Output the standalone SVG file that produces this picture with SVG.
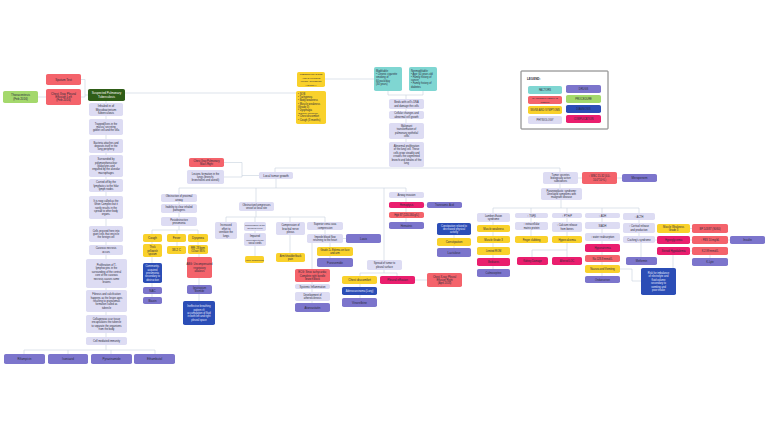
<svg xmlns="http://www.w3.org/2000/svg" width="768" height="433" viewBox="0 0 768 433">
<style>
text{font-family:"Liberation Sans",Arial,sans-serif;font-size:3px;fill:#2b2b3a;text-anchor:middle}
.s text,text.s{font-size:2.6px}
.l{text-anchor:start}
rect{rx:1.8px}
.f{fill:#7fd6d2}.d{fill:#7c75cc}.r{fill:#f4636b}.g{fill:#a4d86c}.y{fill:#f9d12b}.b{fill:#2b4db6}.p{fill:#dddcf3}.c{fill:#ea1e6e}.k{fill:#2f5d17}
.w{fill:#ffffff}
#conn path{fill:none;stroke:#c6d1de;stroke-width:0.6}
</style>
<rect width="768" height="433" fill="#ffffff" style="rx:0"/>
<g id="conn">
<path d="M38,97H46M81,79.5H85V97H81M85,95H88M125,93H296M106,101V337M106,345V350M24,350H155M24,350V354M68,350V354M111,350V354M155,350V354"/>
<path d="M325,79H374M388,91V95H423V91M406,95V167M275,168H560M275,168V172M560,168V172"/>
<path d="M224,162.5H242V177H224M242,175.5H259M276,179V188M179,188H406M179,188V194M256,188V202M384,188V260M406,188V229M424,205H427"/>
<path d="M179,194V230M152,230H198M152,230V304M177,230V254M198,230V245M199,245V301"/>
<path d="M256,211V217M226,217H325M226,217V222M255,217V256M290,217V253M325,217V234M330,243V258M343,238.5H346M312,243V303"/>
<path d="M384,270V273M360,273H397M360,273V298M397,273V276M415,280H427M454,235V248"/>
<path d="M578,178H582M617,178H622M560,184V188M561,200V208M493,208H639M493,208V277M531,208V243M567,208V257M567,250H532V257M602,208V283M639,208V243M641,243V257M655,240H657M690,228.5H692M690,240H692M728,240H730M690,251H692M710,255V258M673,255V268M620,269H632V281H641"/>
</g>
<g id="legend">
<rect x="521" y="71" width="87" height="58" fill="#ffffff" stroke="#555" stroke-width="0.8" style="rx:0.5px"/>
<text x="527" y="79.5" class="l" font-weight="bold">LEGEND:</text>
<g class="s">
<rect class="f" x="528" y="86" width="34" height="8"/><text x="545" y="91">FACTORS</text>
<rect class="d" x="566" y="85" width="35" height="8"/><text x="583.5" y="90">DRUGS</text>
<rect class="r" x="528" y="96" width="34" height="8"/><text x="545" y="99.4" style="font-size:2.3px">DIAGNOSTIC TEST/LAB</text><text x="545" y="102.6" style="font-size:2.3px">RESULT</text>
<rect class="g" x="566" y="95" width="35" height="8"/><text x="583.5" y="100">PROCEDURE</text>
<rect class="y" x="528" y="106" width="34" height="8"/><text x="545" y="111">SIGNS AND SYMPTOMS</text>
<rect class="b" x="566" y="105" width="35" height="8"/><text x="583.5" y="110">DIAGNOSIS</text>
<rect class="p" x="528" y="116" width="34" height="8"/><text x="545" y="121">PHYSIOLOGY</text>
<rect class="c" x="566" y="115" width="35" height="8"/><text x="583.5" y="120">COMPLICATION</text>
</g>
</g>
<g id="sputum"><rect class="r" x="46" y="74" width="35" height="11"/><text x="63.5" y="80.5">Sputum Test</text></g>
<g id="cxr_left"><rect class="r" x="46" y="89" width="35" height="16"/><text x="63.5" y="94.6">Chest Xray Pleural</text><text x="63.5" y="98">Effusion Left</text><text x="63.5" y="101.4">(Feb 2016)</text></g>
<g id="thora"><rect class="g" x="3" y="91" width="35" height="12"/><text x="20.5" y="96.3">Thoracentesis</text><text x="20.5" y="99.7">(Feb 2016)</text></g>
<g id="ptb"><rect class="k" x="88" y="89" width="37" height="12"/><text x="106.5" y="94.3" fill="#fff" style="fill:#fff">Suspected Pulmonary</text><text x="106.5" y="97.7" style="fill:#fff">Tuberculosis</text></g>
<g id="t1"><rect class="p" x="89" y="103" width="34" height="13"/><text x="106" y="107.1">Inhaled in of</text><text x="106" y="110.5">Mycobacterium</text><text x="106" y="113.9">tuberculosis</text></g>
<g id="t2" class="s"><rect class="p" x="89" y="119" width="34" height="16"/><text x="106" y="124.6">Trapped/lives in the</text><text x="106" y="128">mucus/ secreting</text><text x="106" y="131.4">goblet cell and the villa</text></g>
<g id="t3" class="s"><rect class="p" x="89" y="139" width="34" height="14"/><text x="106" y="143.6">Bacteria attaches and</text><text x="106" y="147">deposits itself in the</text><text x="106" y="150.4">lung periphery</text></g>
<g id="t4" class="s"><rect class="p" x="89" y="155" width="34" height="22"/><text x="106" y="160.2">Surrounded by</text><text x="106" y="163.6">polymorphonuclear</text><text x="106" y="167">leukocytes and</text><text x="106" y="170.4">engulfed by the alveolar</text><text x="106" y="173.8">macrophages</text></g>
<g id="t5" class="s"><rect class="p" x="89" y="179" width="34" height="13"/><text x="106" y="183.1">Carried off by the</text><text x="106" y="186.5">lymphatics to the hilar</text><text x="106" y="189.9">lymph nodes</text></g>
<g id="t6" class="s"><rect class="p" x="89" y="196" width="34" height="23"/><text x="106" y="201.7">It is now called as the</text><text x="106" y="205.1">Ghon Complex but it</text><text x="106" y="208.5">rarely results in the</text><text x="106" y="211.9">spread to other body</text><text x="106" y="215.3">organs.</text></g>
<g id="t7" class="s"><rect class="p" x="89" y="226" width="34" height="16"/><text x="106" y="231.6">Cells proceed here into</text><text x="106" y="235">giant cells that encircle</text><text x="106" y="238.4">the foreign cell</text></g>
<g id="t8" class="s"><rect class="p" x="89" y="245" width="34" height="10"/><text x="106" y="249.3">Caseous necrosis</text><text x="106" y="252.7">occurs</text></g>
<g id="t9" class="s"><rect class="p" x="86" y="259" width="41" height="29"/><text x="106.5" y="266">Proliferation of T-</text><text x="106.5" y="269.4">lymphocytes in the</text><text x="106.5" y="272.8">surrounding of the central</text><text x="106.5" y="276.2">core of the caseous</text><text x="106.5" y="279.6">necrosis causes some</text><text x="106.5" y="283">lesions</text></g>
<g id="t10" class="s"><rect class="p" x="86" y="290" width="41" height="22"/><text x="106.5" y="295.2">Fibrosis and calcification</text><text x="106.5" y="298.6">happens as the lesion ages</text><text x="106.5" y="302">resulting to granulomas</text><text x="106.5" y="305.4">formation called as</text><text x="106.5" y="308.8">tubercle</text></g>
<g id="t11" class="s"><rect class="p" x="86" y="315" width="41" height="18"/><text x="106.5" y="319.9">Collagenous scar tissue</text><text x="106.5" y="323.3">encapsulates the tubercle</text><text x="106.5" y="326.7">to separate the organisms</text><text x="106.5" y="330.1">from the body</text></g>
<g id="t12" class="s"><rect class="p" x="86" y="337" width="41" height="8"/><text x="106.5" y="341.9">Cell mediated immunity</text></g>
<g id="rifampicin"><rect class="d" x="4" y="354" width="41" height="10"/><text x="24.5" y="360">Rifampicin</text></g>
<g id="isoniazid"><rect class="d" x="48" y="354" width="40" height="10"/><text x="68" y="360">Isoniazid</text></g>
<g id="pyrazinamide"><rect class="d" x="91" y="354" width="41" height="10"/><text x="111.5" y="360">Pyrazinamide</text></g>
<g id="ethambutol"><rect class="d" x="134" y="354" width="41" height="10"/><text x="154.5" y="360">Ethambutol</text></g>
<g id="cxr_mass"><rect class="r" x="189" y="158" width="35" height="9"/><text x="206.5" y="161.8" class="s">Chest Xray Pulmonary</text><text x="206.5" y="165.2" class="s">Mass Right</text></g>
<g id="lesions" class="s"><rect class="p" x="187" y="170" width="37" height="14"/><text x="205.5" y="174.6">Lesions formation in the</text><text x="205.5" y="178">lungs (bronchi,</text><text x="205.5" y="181.4">bronchioles and alveoli)</text></g>
<g id="local"><rect class="p" x="259" y="172" width="34" height="7"/><text x="276" y="176.5">Local tumor growth</text></g>
<g id="obs" class="s"><rect class="p" x="161" y="194" width="36" height="8"/><text x="179" y="197.4">Obstruction of proximal</text><text x="179" y="200.7">airway</text></g>
<g id="inab" class="s"><rect class="p" x="161" y="204" width="36" height="9"/><text x="179" y="207.8">Inability to clear inhaled</text><text x="179" y="211.2">pathogens</text></g>
<g id="postob" class="s"><rect class="p" x="161" y="217" width="36" height="9"/><text x="179" y="220.8">Postobstructive</text><text x="179" y="224.2">pneumonia</text></g>
<g id="cough"><rect class="y" x="143" y="234" width="19" height="8"/><text x="152.5" y="239">Cough</text></g>
<g id="sputum2" class="s"><rect class="y" x="143" y="244" width="19" height="13"/><text x="152.5" y="248.1">Thick</text><text x="152.5" y="251.5">yellowish</text><text x="152.5" y="254.9">sputum</text></g>
<g id="cap" class="s"><rect class="b" x="143" y="263" width="19" height="20"/><text x="152.5" y="267.2" style="fill:#e8ecff">Community-</text><text x="152.5" y="270.6" style="fill:#e8ecff">acquired</text><text x="152.5" y="274" style="fill:#e8ecff">pneumonia</text><text x="152.5" y="277.4" style="fill:#e8ecff">secondary to</text><text x="152.5" y="280.8" style="fill:#e8ecff">obstruction</text></g>
<g id="nac"><rect class="d" x="143" y="287" width="19" height="7"/><text x="152.5" y="291.5">NAC</text></g>
<g id="biaxin"><rect class="d" x="143" y="297" width="19" height="7"/><text x="152.5" y="301.5">Biaxin</text></g>
<g id="fever"><rect class="y" x="167" y="234" width="19" height="8"/><text x="176.5" y="239">Fever</text></g>
<g id="temp"><rect class="y" x="167" y="246" width="19" height="8"/><text x="176.5" y="251">38.2 C</text></g>
<g id="dysp"><rect class="y" x="188" y="234" width="20" height="8"/><text x="198" y="239">Dyspnea</text></g>
<g id="rr" class="s"><rect class="y" x="188" y="245" width="20" height="9"/><text x="198" y="248.8">RR: 28 bpm</text><text x="198" y="252.2">O2sat: 86%</text></g>
<g id="abg" class="s"><rect class="r" x="187" y="257" width="25" height="21"/><text x="199.5" y="265.1">ABG: Uncompensated</text><text x="199.5" y="268.5">respiratory</text><text x="199.5" y="271.9">alkalosis</text></g>
<g id="iprat" class="s"><rect class="d" x="187" y="285" width="25" height="9"/><text x="199.5" y="288.8">Ipratropium</text><text x="199.5" y="292.2">Bromide</text></g>
<g id="peff_dx" class="s"><rect class="b" x="183" y="301" width="32" height="24"/><text x="199" y="307.2" style="fill:#e8ecff">Ineffective breathing</text><text x="199" y="310.6" style="fill:#e8ecff">pattern r/t</text><text x="199" y="314" style="fill:#e8ecff">accumulation of fluid</text><text x="199" y="317.4" style="fill:#e8ecff">in both left and right</text><text x="199" y="320.8" style="fill:#e8ecff">pleural space</text></g>
<g id="vessel" class="s"><rect class="p" x="239" y="202" width="35" height="9"/><text x="256.5" y="205.8">Obstruction/compresses</text><text x="256.5" y="209.2">vessel at local site</text></g>
<g id="effort" class="s"><rect class="p" x="215" y="222" width="22" height="17"/><text x="226" y="226.4">Increased</text><text x="226" y="229.8">effort to</text><text x="226" y="233.2">ventilate the</text><text x="226" y="236.6">lungs</text></g>
<g id="laryn" class="s"><rect class="p" x="244" y="222" width="22" height="9"/><text x="255" y="225.8" style="font-size:2.3px">Compression at the</text><text x="255" y="229.2" style="font-size:2.3px">laryngeal nerve</text></g>
<g id="impair" class="s"><rect class="p" x="244" y="233" width="22" height="13"/><text x="255" y="237.1">Impaired</text><text x="255" y="240.5" style="font-size:2.3px">innervation to the</text><text x="255" y="243.9">vocal cords</text></g>
<g id="voice" class="s"><rect class="y" x="245" y="256" width="19" height="7"/><text x="254.5" y="260.5" style="font-size:2.3px">Voice hoarseness</text></g>
<g id="brach" class="s"><rect class="p" x="276" y="222" width="29" height="13"/><text x="290.5" y="226.1">Compression of</text><text x="290.5" y="229.5">brachial nerve</text><text x="290.5" y="232.9">plexus</text></g>
<g id="arm" class="s"><rect class="y" x="276" y="253" width="29" height="9"/><text x="290.5" y="256.8">Arm/shoulder/back</text><text x="290.5" y="260.2">pain</text></g>
<g id="svc" class="s"><rect class="p" x="307" y="222" width="36" height="8"/><text x="325" y="225.3">Superior vena cava</text><text x="325" y="228.7">compression</text></g>
<g id="impede" class="s"><rect class="p" x="307" y="234" width="36" height="9"/><text x="325" y="237.8">Impede blood flow</text><text x="325" y="241.2">returning to the heart</text></g>
<g id="lasix"><rect class="d" x="346" y="234" width="35" height="9"/><text x="363.5" y="239.5">Lasix</text></g>
<g id="edema" class="s"><rect class="y" x="317" y="247" width="36" height="9"/><text x="335" y="250.8">Grade 2+ Edema on face</text><text x="335" y="254.2">and arm</text></g>
<g id="furo"><rect class="d" x="317" y="258" width="36" height="9"/><text x="335" y="263.5">Furosemide</text></g>
<g id="ecg" class="s"><rect class="r" x="295" y="269" width="35" height="13"/><text x="312.5" y="273.1">ECG: Sinus tachycardia;</text><text x="312.5" y="276.5">Complete right bundle</text><text x="312.5" y="279.9">branch block</text></g>
<g id="sysinf" class="s"><rect class="p" x="295" y="284" width="35" height="5"/><text x="312.5" y="287.5">Systemic Inflammation</text></g>
<g id="athero" class="s"><rect class="p" x="295" y="292" width="35" height="9"/><text x="312.5" y="295.8">Development of</text><text x="312.5" y="299.2">atherosclerosis</text></g>
<g id="atorva"><rect class="d" x="295" y="303" width="35" height="9"/><text x="312.5" y="308.5">Atorvastatin</text></g>
<g id="spread" class="s"><rect class="p" x="367" y="260" width="35" height="10"/><text x="384.5" y="264.3">Spread of tumor to</text><text x="384.5" y="267.7">pleural surface</text></g>
<g id="chestd"><rect class="y" x="342" y="276" width="35" height="8"/><text x="359.5" y="281">Chest discomfort</text></g>
<g id="adeno" class="s"><rect class="b" x="342" y="287" width="35" height="8"/><text x="359.5" y="292" style="fill:#e8ecff">Adenocarcinoma (Lung)</text></g>
<g id="vino"><rect class="d" x="342" y="298" width="35" height="9"/><text x="359.5" y="303.5">Vinorelbine</text></g>
<g id="peff"><rect class="c" x="380" y="276" width="35" height="8"/><text x="397.5" y="281">Pleural effusion</text></g>
<g id="cxr_r" class="s"><rect class="r" x="427" y="273" width="35" height="14"/><text x="444.5" y="277.6">Chest X-ray: Pleural</text><text x="444.5" y="281">Effusion Right</text><text x="444.5" y="284.4">(April 2016)</text></g>
<g id="pss" class="s"><rect class="y" x="297" y="72" width="28" height="15"/><text x="311" y="75.4" style="font-size:2.3px">PRESENTING SIGNS</text><text x="311" y="78.8" style="font-size:2.3px">AND SYMPTOMS</text><text x="311" y="82.2" style="font-size:2.3px">(UPON ADMISSION</text><text x="311" y="85.6" style="font-size:2.3px">HISTORY)</text></g>
<g id="list" class="s"><rect class="y" x="296" y="91" width="30" height="33"/><text x="298" y="95" class="l">• SOB</text><text x="298" y="98.2" class="l">• Tachypnea</text><text x="298" y="101.4" class="l">• Body weakness</text><text x="298" y="104.6" class="l">• Muscle weakness</text><text x="298" y="107.8" class="l">  (Grade 3)</text><text x="298" y="111" class="l">• Dysphagia</text><text x="298" y="114.2" class="l" style="font-size:2.3px">(Difficulty speaking)</text><text x="298" y="117.4" class="l">• Chest discomfort</text><text x="298" y="120.6" class="l">• Cough (3 months)</text></g>
<g id="mod" class="s"><rect class="f" x="374" y="67" width="28" height="24"/><text x="376" y="72" class="l">Modifiable:</text><text x="376" y="75.2" class="l">• Chronic cigarette</text><text x="376" y="78.4" class="l">smoking of</text><text x="376" y="81.6" class="l">60 pack/day</text><text x="376" y="84.8" class="l">(30 years)</text></g>
<g id="nonmod" class="s"><rect class="f" x="409" y="67" width="28" height="24"/><text x="411" y="71.5" class="l">Nonmodifiable:</text><text x="411" y="74.7" class="l">• Age: 60 years old</text><text x="411" y="77.9" class="l">• Family history of</text><text x="411" y="81.1" class="l">cancer</text><text x="411" y="84.3" class="l">• Family history of</text><text x="411" y="87.5" class="l">diabetes</text></g>
<g id="binds" class="s"><rect class="p" x="389" y="99" width="35" height="10"/><text x="406.5" y="103.3">Binds with cell's DNA</text><text x="406.5" y="106.7">and damage the cells</text></g>
<g id="cellch" class="s"><rect class="p" x="389" y="111" width="35" height="8"/><text x="406.5" y="114.3">Cellular changes and</text><text x="406.5" y="117.7">abnormal cell growth</text></g>
<g id="malig" class="s"><rect class="p" x="389" y="123" width="35" height="16"/><text x="406.5" y="126.9">Malignant</text><text x="406.5" y="130.3">transformation of</text><text x="406.5" y="133.7">pulmonary epithelial</text><text x="406.5" y="137.1">cells</text></g>
<g id="abn" class="s"><rect class="p" x="389" y="142" width="35" height="25"/><text x="406.5" y="147">Abnormal proliferation</text><text x="406.5" y="150.4">of the lung cell. These</text><text x="406.5" y="153.8">cells grow steadily and</text><text x="406.5" y="157.2">creates the segmented</text><text x="406.5" y="160.6">bronchi and lobules of the</text><text x="406.5" y="164">lung</text></g>
<g id="airway" class="s"><rect class="p" x="389" y="192" width="35" height="6"/><text x="406.5" y="196">Airway invasion</text></g>
<g id="hemop" class="s"><rect class="c" x="389" y="202" width="35" height="6"/><text x="406.5" y="206">Hemoptysis</text></g>
<g id="txa" class="s"><rect class="d" x="427" y="202" width="35" height="6"/><text x="444.5" y="206">Tranexamic Acid</text></g>
<g id="hgb" class="s"><rect class="r" x="389" y="212" width="35" height="6"/><text x="406.5" y="216">Hgb 87 (120-160 g/L)</text></g>
<g id="iron" class="s"><rect class="d" x="389" y="222" width="35" height="7"/><text x="406.5" y="226.5">Hematinic</text></g>
<g id="constdx" class="s"><rect class="b" x="437" y="223" width="34" height="12"/><text x="454" y="226.6" style="fill:#e8ecff">Constipation related to</text><text x="454" y="230" style="fill:#e8ecff">decreased physical</text><text x="454" y="233.4" style="fill:#e8ecff">activity</text></g>
<g id="const"><rect class="y" x="437" y="238" width="34" height="8"/><text x="454" y="243">Constipation</text></g>
<g id="lactu"><rect class="d" x="437" y="248" width="34" height="9"/><text x="454" y="253.5">Lactulose</text></g>
<g id="tumsec" class="s"><rect class="p" x="543" y="172" width="35" height="12"/><text x="560.5" y="175.6">Tumor secretes</text><text x="560.5" y="179">biologically active</text><text x="560.5" y="182.4">substances</text></g>
<g id="wbc" class="s"><rect class="r" x="582" y="172" width="35" height="12"/><text x="599.5" y="177.3">↑ WBC 15.32 (4.0-</text><text x="599.5" y="180.7">10.0*10⁹/L)</text></g>
<g id="mero"><rect class="d" x="622" y="174" width="35" height="8"/><text x="639.5" y="179">Meropenem</text></g>
<g id="parane" class="s"><rect class="p" x="541" y="188" width="41" height="12"/><text x="561.5" y="191.6">Paraneoplastic syndrome:</text><text x="561.5" y="195">Unrelated symptoms with</text><text x="561.5" y="198.4">malignant disease</text></g>
<g id="lambert" class="s"><rect class="p" x="477" y="213" width="33" height="9"/><text x="493.5" y="216.8">Lambert-Eaton</text><text x="493.5" y="220.2">syndrome</text></g>
<g id="mw" class="s"><rect class="y" x="477" y="225" width="33" height="7"/><text x="493.5" y="229.5">Muscle weakness</text></g>
<g id="mg" class="s"><rect class="y" x="477" y="236" width="33" height="7"/><text x="493.5" y="240.5">Muscle Grade 3</text></g>
<g id="rom" class="s"><rect class="y" x="477" y="247" width="33" height="8"/><text x="493.5" y="252">Limited ROM</text></g>
<g id="bed" class="s"><rect class="c" x="477" y="258" width="33" height="8"/><text x="493.5" y="263">Bedsores</text></g>
<g id="calmo" class="s"><rect class="d" x="477" y="269" width="33" height="8"/><text x="493.5" y="274">Calmoseptine</text></g>
<g id="tgf" class="s"><rect class="p" x="515" y="213" width="33" height="5"/><text x="531.5" y="216.5">↑ TGFβ</text></g>
<g id="ecm" class="s"><rect class="p" x="515" y="222" width="33" height="8"/><text x="531.5" y="225.3">↑ extracellular</text><text x="531.5" y="228.7">matrix protein</text></g>
<g id="club" class="s"><rect class="y" x="515" y="236" width="33" height="7"/><text x="531.5" y="240.5">Finger clubbing</text></g>
<g id="kidney" class="s"><rect class="c" x="517" y="257" width="31" height="8"/><text x="532.5" y="262">Kidney Damage</text></g>
<g id="pthrp" class="s"><rect class="p" x="552" y="213" width="30" height="5"/><text x="567" y="216.5">↑ PTHrP</text></g>
<g id="ca" class="s"><rect class="p" x="552" y="222" width="30" height="10"/><text x="567" y="226.3">↑ Calcium release</text><text x="567" y="229.7">from bones</text></g>
<g id="hyperca" class="s"><rect class="y" x="552" y="236" width="30" height="7"/><text x="567" y="240.5">Hypercalcemia</text></g>
<g id="loc" class="s"><rect class="c" x="552" y="257" width="30" height="8"/><text x="567" y="262">Altered LOC</text></g>
<g id="adh" class="s"><rect class="p" x="585" y="213" width="35" height="5"/><text x="602.5" y="216.5">↑ ADH</text></g>
<g id="siadh" class="s"><rect class="p" x="585" y="222" width="35" height="7"/><text x="602.5" y="226.5">SIADH</text></g>
<g id="water" class="s"><rect class="p" x="585" y="233" width="35" height="8"/><text x="602.5" y="238">↑ water reabsorption</text></g>
<g id="hypona" class="s"><rect class="c" x="585" y="244" width="35" height="8"/><text x="602.5" y="249">Hyponatremia</text></g>
<g id="na" class="s"><rect class="r" x="585" y="255" width="35" height="7"/><text x="602.5" y="259.5">Na 128.8 mmol/L</text></g>
<g id="nv" class="s"><rect class="y" x="585" y="265" width="35" height="8"/><text x="602.5" y="270">Nausea and Vomiting</text></g>
<g id="ondan" class="s"><rect class="d" x="585" y="276" width="35" height="7"/><text x="602.5" y="280.5">Ondansetron</text></g>
<g id="acth" class="s"><rect class="p" x="623" y="213" width="32" height="7"/><text x="639" y="217.5">↑ ACTH</text></g>
<g id="cort" class="s"><rect class="p" x="623" y="223" width="32" height="10"/><text x="639" y="227.3">↑ Cortisol release</text><text x="639" y="230.7">and production</text></g>
<g id="cush" class="s"><rect class="p" x="623" y="236" width="32" height="7"/><text x="639" y="240.5">Cushing's syndrome</text></g>
<g id="metf" class="s"><rect class="d" x="626" y="257" width="31" height="8"/><text x="641.5" y="262">Metformin</text></g>
<g id="fluiddx" class="s"><rect class="b" x="641" y="268" width="35" height="27"/><text x="658.5" y="274" style="fill:#e8ecff">Risk for imbalance</text><text x="658.5" y="277.4" style="fill:#e8ecff">of electrolyte and</text><text x="658.5" y="280.8" style="fill:#e8ecff">fluid volume</text><text x="658.5" y="284.2" style="fill:#e8ecff">secondary to</text><text x="658.5" y="287.6" style="fill:#e8ecff">vomiting and</text><text x="658.5" y="291" style="fill:#e8ecff">poor intake</text></g>
<g id="mwg3" class="s"><rect class="y" x="657" y="224" width="33" height="9"/><text x="673.5" y="227.8">Muscle Weakness</text><text x="673.5" y="231.2">Grade 3</text></g>
<g id="hypergly" class="s"><rect class="c" x="657" y="236" width="33" height="8"/><text x="673.5" y="241">Hyperglycemia</text></g>
<g id="sterhypo" class="s"><rect class="c" x="657" y="247" width="33" height="8"/><text x="673.5" y="252">Steroid Hypokalemia</text></g>
<g id="bp" class="s"><rect class="r" x="692" y="224" width="36" height="9"/><text x="710" y="229.5">BP 143/87 (90/60)</text></g>
<g id="fbs" class="s"><rect class="r" x="692" y="236" width="36" height="8"/><text x="710" y="241">↑ FBS 10 mg/dL</text></g>
<g id="k" class="s"><rect class="r" x="692" y="247" width="36" height="8"/><text x="710" y="252">K 2.99 mmol/L</text></g>
<g id="insulin"><rect class="d" x="730" y="236" width="35" height="8"/><text x="747.5" y="241">Insulin</text></g>
<g id="kcl" class="s"><rect class="d" x="692" y="258" width="36" height="8"/><text x="710" y="263">K-Lyte</text></g>
</svg>
